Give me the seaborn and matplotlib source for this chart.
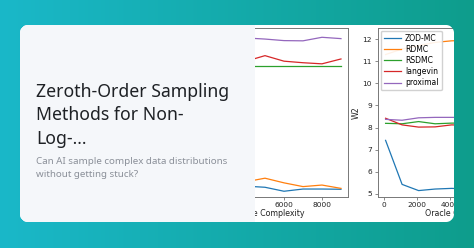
import numpy as np
import pandas as pd
import matplotlib
matplotlib.use("Agg")
import matplotlib.pyplot as plt
from matplotlib.ticker import MultipleLocator, FixedLocator
import seaborn as sns

# ---------------- data ----------------
methods = ["ZOD-MC", "RDMC", "RSDMC", "langevin", "proximal"]

left_x = [1000, 2000, 3000, 4000, 5000, 6000, 7000, 8000, 9000]
left_zodmc = [6.90, 5.60, 5.40, 5.35, 5.30, 5.12, 5.22, 5.22, 5.21]
left_rdmc = [6.20, 5.90, 5.75, 5.55, 5.71, 5.50, 5.33, 5.40, 5.25]
left_rsdmc = [10.76, 10.76, 10.76, 10.76, 10.76, 10.76, 10.76, 10.76, 10.76]
left_langevin = [11.10, 11.20, 11.15, 11.00, 11.25, 11.00, 10.93, 10.88, 11.10]
left_proximal = [12.05, 12.00, 12.02, 12.05, 12.00, 11.93, 11.92, 12.08, 12.02]

right_x = [100, 1100, 2100, 3100, 4100, 5100, 6100, 7100, 8100, 9100]
right_zodmc = [7.42, 5.43, 5.15, 5.22, 5.25, 5.22, 5.20, 5.21, 5.18, 5.20]
right_rdmc = [11.30, 11.55, 11.70, 11.85, 11.92, 11.95, 12.00, 12.00, 12.05, 12.05]
right_rsdmc = [8.19, 8.17, 8.27, 8.17, 8.20, 8.20, 8.18, 8.20, 8.19, 8.20]
right_langevin = [8.42, 8.12, 8.02, 8.03, 8.12, 8.10, 8.08, 8.10, 8.09, 8.10]
right_proximal = [8.37, 8.33, 8.44, 8.46, 8.46, 8.45, 8.46, 8.45, 8.46, 8.45]

left_xticks = [4000, 6000, 8000]
right_xticks = [0, 2000, 4000]

title_lines = ["Zeroth-Order Sampling", "Methods for Non-", "Log-..."]
subtitle_lines = ["Can AI sample complex data distributions", "without getting stuck?"]
x_label = "Oracle Complexity"
y_label = "W2"


def long_frame(x, series):
    rows = []
    for name, vals in zip(methods, series):
        for xv, yv in zip(x, vals):
            rows.append({"oracle": xv, "W2": yv, "method": name})
    return pd.DataFrame(rows)


df_left = long_frame(left_x, [left_zodmc, left_rdmc, left_rsdmc, left_langevin, left_proximal])
df_right = long_frame(right_x, [right_zodmc, right_rdmc, right_rsdmc, right_langevin, right_proximal])

# ---------------- figure ----------------
W, H = 474, 248
fig = plt.figure(figsize=(W / 100, H / 100), dpi=100, facecolor="white")

palette = sns.color_palette("tab10", len(methods))
spine_col = "#777777"


def style_axes(ax, xticks):
    for s in ax.spines.values():
        s.set_color(spine_col)
        s.set_linewidth(0.7)
    ax.xaxis.set_major_locator(FixedLocator(xticks))
    ax.tick_params(axis="both", labelsize=5.3, width=0.6, color=spine_col, labelcolor="#222222")
    ax.tick_params(axis="x", length=2.5, pad=1.0)
    ax.tick_params(axis="y", length=2.5, pad=1.8)
    ax.set_xlabel(x_label, fontsize=5.7, labelpad=1.0, color="#222222")
    ax.set_ylabel(y_label, fontsize=5.7, labelpad=1.5, color="#222222")
    ax.yaxis.set_major_locator(MultipleLocator(1))
    ax.set_ylim(4.86, 12.5)


ax1 = fig.add_axes([188 / W, 1 - 197 / H, 160 / W, 169 / H])
sns.lineplot(data=df_left, x="oracle", y="W2", hue="method", hue_order=methods,
             palette=palette, linewidth=0.9, ax=ax1, legend=False)
ax1.set_xlim(946, 9370)
style_axes(ax1, left_xticks)
# the left axis labels sit under the text panel and are not shown
ax1.tick_params(axis="y", labelleft=False)
ax1.set_ylabel("")

ax2 = fig.add_axes([378 / W, 1 - 197 / H, 166 / W, 169 / H])
sns.lineplot(data=df_right, x="oracle", y="W2", hue="method", hue_order=methods,
             palette=palette, linewidth=0.9, ax=ax2)
ax2.set_xlim(-360, 9700)
style_axes(ax2, right_xticks)
handles, labels = ax2.get_legend_handles_labels()
ax2.legend(handles, labels, loc="upper left", fontsize=5.5, labelspacing=0.28,
           handlelength=2.3, handletextpad=0.5, borderpad=0.4, borderaxespad=0.35,
           framealpha=0.9, edgecolor="#cccccc")

# ---------------- card overlay ----------------
yy, xx = np.mgrid[0:H, 0:W] + 0.5


def rrect_cov(x0, y0, x1, y1, r):
    cx = np.clip(xx, x0 + r, x1 - r)
    cy = np.clip(yy, y0 + r, y1 - r)
    d = np.hypot(xx - cx, yy - cy) - r
    return np.clip(0.5 - d, 0, 1)


card = rrect_cov(20, 25, 454, 222, 8)
panel = card * np.clip(255 - xx + 0.5, 0, 1)

c0 = np.array([26, 184, 201]) / 255.0
c1 = np.array([14, 157, 140]) / 255.0
t = (xx / W)[..., None]
grad = c0 * (1 - t) + c1 * t
layer_bg = np.dstack([grad, 1 - card])
panel_col = np.array([245, 247, 250]) / 255.0
layer_panel = np.dstack([np.broadcast_to(panel_col, (H, W, 3)), panel])

ax_o = fig.add_axes([0, 0, 1, 1], zorder=10)
ax_o.imshow(layer_bg, extent=(0, W, H, 0), interpolation="nearest", aspect="auto")
ax_o.imshow(layer_panel, extent=(0, W, H, 0), interpolation="nearest", aspect="auto")
ax_o.set_xlim(0, W)
ax_o.set_ylim(H, 0)
ax_o.axis("off")

for line, yb in zip(title_lines, [96.7, 120.2, 143.8]):
    ax_o.text(36, yb, line, fontsize=12.7, family="Noto Sans", color="#1e2125", va="baseline", ha="left")
for line, yb in zip(subtitle_lines, [163.5, 177.0]):
    ax_o.text(36, yb, line, fontsize=7.05, family="Noto Sans", color="#8b9099", va="baseline", ha="left")

fig.savefig("out.png", dpi=100, facecolor="white")
